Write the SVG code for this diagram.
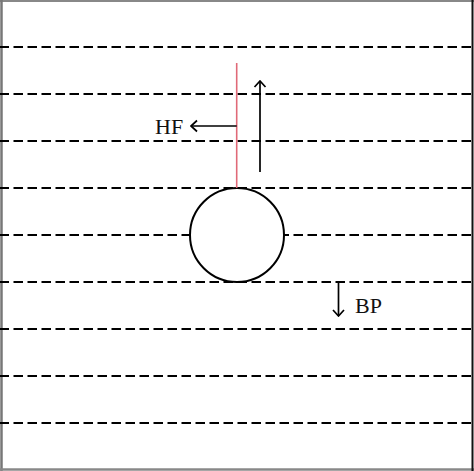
<svg xmlns="http://www.w3.org/2000/svg" width="474" height="471" viewBox="0 0 474 471">
<defs>
<style>
.dash{stroke:#000;stroke-width:2;stroke-dasharray:9.5 4.5;fill:none}
.arr{stroke:#000;stroke-width:1.7;fill:none}
.lbl{font-family:"Liberation Serif","DejaVu Serif",serif;font-size:22px;fill:#111}
</style>
<marker id="head" viewBox="0 0 10 14" refX="9" refY="7" markerWidth="10" markerHeight="14" markerUnits="userSpaceOnUse" orient="auto">
<path d="M3,1.5 L9,7 L3,12.5" fill="none" stroke="#000" stroke-width="1.7"/>
</marker>
</defs>
<rect x="0" y="0" width="474" height="471" fill="#fff"/>
<g id="frame">
<line x1="0" y1="1" x2="474" y2="1" stroke="#888" stroke-width="2"/>
<line x1="1.5" y1="0" x2="1.5" y2="471" stroke="#777" stroke-width="2.5"/>
<line x1="0" y1="469.5" x2="474" y2="469.5" stroke="#888" stroke-width="2.5"/>
<line x1="472.5" y1="0" x2="472.5" y2="471" stroke="#111" stroke-width="2"/>
</g>
<g id="layers">
<line class="dash" x1="-0.5" y1="47" x2="474" y2="47"/>
<line class="dash" x1="-0.5" y1="94" x2="474" y2="94"/>
<line class="dash" x1="-0.5" y1="141" x2="474" y2="141"/>
<line class="dash" x1="-0.5" y1="188" x2="474" y2="188"/>
<line class="dash" x1="-0.5" y1="235" x2="474" y2="235"/>
<line class="dash" x1="-0.5" y1="282" x2="474" y2="282"/>
<line class="dash" x1="-0.5" y1="329" x2="474" y2="329"/>
<line class="dash" x1="-0.5" y1="376" x2="474" y2="376"/>
<line class="dash" x1="-0.5" y1="423" x2="474" y2="423"/>
</g>
<g id="particle">
<circle cx="237" cy="235" r="47" fill="#fff" stroke="#000" stroke-width="2"/>
</g>
<g id="tether">
<line x1="236.7" y1="63" x2="236.7" y2="188" stroke="#e06a78" stroke-width="1.6"/>
</g>
<g id="connectors">
<line class="arr" x1="236.7" y1="126" x2="191" y2="126" marker-end="url(#head)"/>
<line class="arr" x1="260" y1="172" x2="260" y2="81" marker-end="url(#head)"/>
<line class="arr" x1="338.5" y1="283" x2="338.5" y2="316" marker-end="url(#head)"/>
</g>
<g id="labels">
<text class="lbl" x="155" y="133.5">HF</text>
<text class="lbl" x="355" y="313">BP</text>
</g>
</svg>
